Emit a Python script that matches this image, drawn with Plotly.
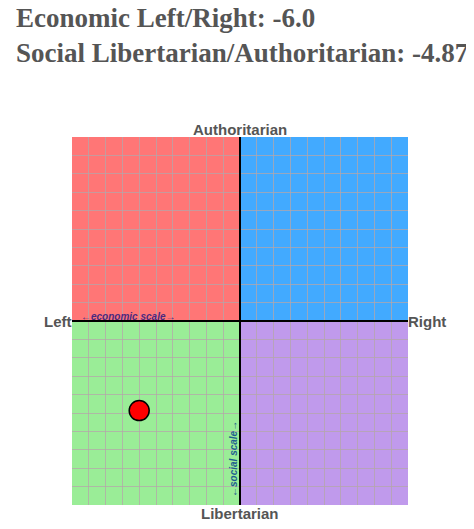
import plotly.graph_objects as go

econ = [-6.0]
social = [-4.87]
title_lines = ["Economic Left/Right: -6.0", "Social Libertarian/Authoritarian: -4.87"]
quad_colors = {"tl": "#ff7676", "tr": "#42aaff", "bl": "#9aed97", "br": "#c09aec"}

fig = go.Figure()
fig.add_trace(go.Scatter(x=econ, y=social, mode="markers",
    marker=dict(size=20, color="#ff0000", line=dict(color="#000", width=1.5)),
    hoverinfo="skip", showlegend=False))

for (x0, x1, y0, y1, c) in [(-10, 0, 0, 10, quad_colors["tl"]), (0, 10, 0, 10, quad_colors["tr"]),
                            (-10, 0, -10, 0, quad_colors["bl"]), (0, 10, -10, 0, quad_colors["br"])]:
    fig.add_shape(type="rect", x0=x0, x1=x1, y0=y0, y1=y1, fillcolor=c, line_width=0, layer="below")
fig.add_shape(type="line", x0=-10, x1=10, y0=0, y1=0, line=dict(color="black", width=2))
fig.add_shape(type="line", x0=0, x1=0, y0=-10, y1=10, line=dict(color="black", width=2))

ax = dict(range=[-10, 10], dtick=1, tick0=-10, showticklabels=False, gridcolor="rgba(180,165,170,0.75)",
          gridwidth=1, zeroline=False, showline=False, fixedrange=True)
fig.update_xaxes(**ax)
fig.update_yaxes(**ax)

lab = dict(size=15, color="#555", family="Liberation Sans")
fig.add_annotation(x=0, y=10, yanchor="bottom", text="<b>Authoritarian</b>", showarrow=False, font=lab, yshift=-3)
fig.add_annotation(x=0, y=-10, yanchor="top", text="<b>Libertarian</b>", showarrow=False, font=lab, yshift=2)
fig.add_annotation(x=-10, y=0, xanchor="right", text="<b>Left</b>", showarrow=False, font=lab, xshift=2)
fig.add_annotation(x=10, y=0, xanchor="left", text="<b>Right</b>", showarrow=False, font=lab, xshift=-2)
fig.add_annotation(x=-9.6, y=0, xanchor="left", yanchor="bottom", text="<i><b>←economic scale→</b></i>",
                   showarrow=False, font=dict(size=10, color="#4a2a80", family="Liberation Sans"), yshift=-3)
fig.add_annotation(x=0, y=-9.7, xanchor="right", yanchor="bottom", text="<i><b>←social scale→</b></i>", textangle=-90,
                   showarrow=False, font=dict(size=10, color="#1f5f8f", family="Liberation Sans"), xshift=1)

tf = dict(size=27, color="#555", family="Liberation Serif")
fig.add_annotation(xref="paper", yref="paper", x=-58/336, y=1 + 119/368, xanchor="left", yanchor="middle",
                   text="<b>" + title_lines[0] + "</b>", showarrow=False, font=tf)
fig.add_annotation(xref="paper", yref="paper", x=-58/336, y=1 + 84/368, xanchor="left", yanchor="middle",
                   text="<b>" + title_lines[1] + "</b>", showarrow=False, font=tf)

fig.update_layout(width=474, height=529, margin=dict(l=64, r=74, t=129, b=32),
                  plot_bgcolor="white", paper_bgcolor="white")
fig.write_html("out.html")
